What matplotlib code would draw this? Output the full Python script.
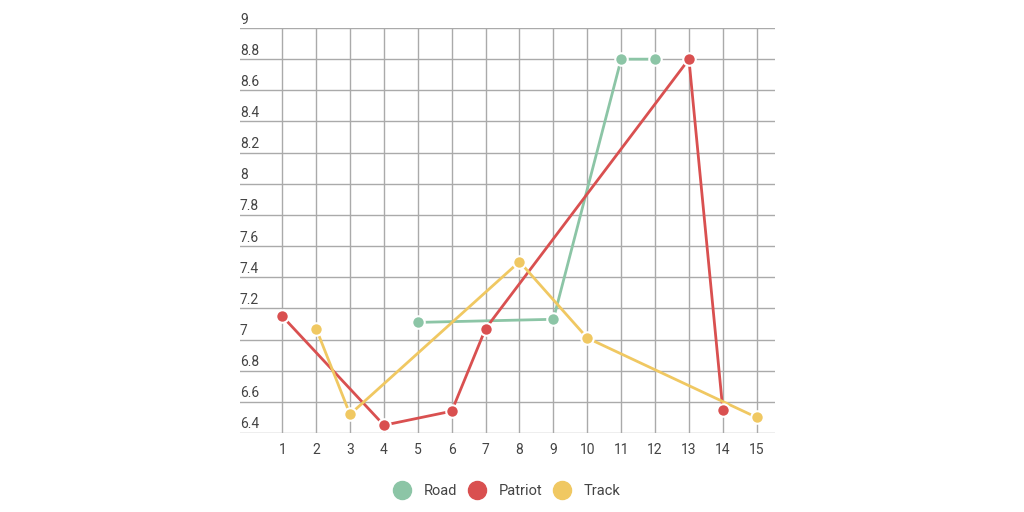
import matplotlib
matplotlib.use("Agg")
import matplotlib.pyplot as plt
from matplotlib.lines import Line2D
from matplotlib.transforms import ScaledTranslation
import numpy as np

plt.rcParams['font.family'] = ['Roboto', 'DejaVu Sans']

categories = list(range(1, 16))
road = [None, None, None, None, 7.11, None, None, None, 7.13, None, 8.8, 8.8, None, None, None]
patriot = [7.15, None, None, 6.45, None, 6.54, 7.07, None, None, None, None, None, 8.8, 6.55, None]
track = [None, 7.07, 6.52, None, None, None, None, 7.5, None, 7.01, None, None, None, None, 6.5]
series_names = ["Road", "Patriot", "Track"]
colors = ["#8cc5a6", "#d95050", "#f0c862"]
y_ticks = [6.4, 6.6, 6.8, 7, 7.2, 7.4, 7.6, 7.8, 8, 8.2, 8.4, 8.6, 8.8, 9]
y_labels = ["6.4", "6.6", "6.8", "7", "7.2", "7.4", "7.6", "7.8", "8", "8.2", "8.4", "8.6", "8.8", "9"]

fig = plt.figure(figsize=(10.24, 5.12), dpi=100)
ax = fig.add_axes([240/1024, 79/512, 535/1024, 405/512])

for name, vals, col in zip(series_names, [road, patriot, track], colors):
    xs = [c for c, v in zip(categories, vals) if v is not None]
    ys = [v for v in vals if v is not None]
    ax.plot(xs, ys, color=col, lw=2, zorder=3, solid_capstyle='round')
    ax.plot(xs, ys, ls='none', marker='o', markersize=9, markerfacecolor=col,
            markeredgecolor='white', markeredgewidth=1.5, zorder=4)

ax.set_xlim(-0.247, 15.54)
ax.set_ylim(6.4, 9)
ax.set_xticks(categories)
ax.set_xticklabels([str(c) for c in categories])
ax.set_yticks(y_ticks)
ax.set_yticklabels(y_labels)
ax.grid(True, color='#aaaaaa', lw=1)
ax.set_axisbelow(True)
for s in ax.spines.values():
    s.set_visible(False)
ax.tick_params(axis='both', length=0, labelsize=10, labelcolor='#444444')
ax.tick_params(axis='x', pad=7)
ax.tick_params(axis='y', pad=0)
off = ScaledTranslation(0, 8.5/100, fig.dpi_scale_trans)
for lab in ax.get_yticklabels():
    lab.set_horizontalalignment('left')
    lab.set_verticalalignment('center')
    lab.set_transform(lab.get_transform() + off)

handles = [Line2D([], [], ls='none', marker='o', markersize=13, markerfacecolor=c,
                  markeredgecolor=c) for c in colors]
fig.legend(handles, series_names, loc='center', bbox_to_anchor=(507/1024, 1 - 491/512),
           ncol=3, frameon=False, fontsize=10.5, labelcolor='#444444',
           handletextpad=0.9, columnspacing=0.75, handlelength=1.2)

fig.savefig("out.png", dpi=100, facecolor='white')
